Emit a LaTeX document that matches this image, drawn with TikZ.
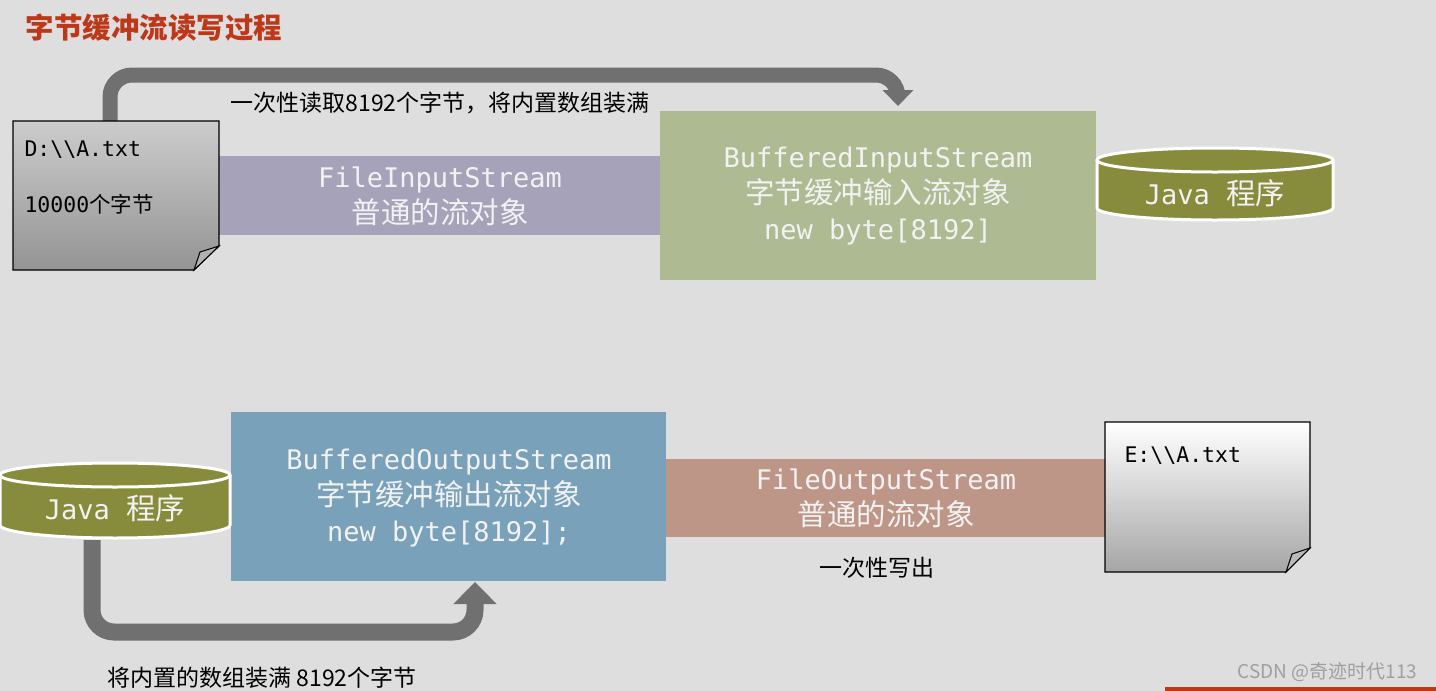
\documentclass[tikz,border=0pt]{standalone}
\usepackage{fontspec}
\setmainfont{DejaVu Sans}
\newfontfamily\cj{Noto Sans CJK SC}
\newfontfamily\mono{DejaVu Sans Mono}
\usetikzlibrary{arrows.meta}
\definecolor{bg}{RGB}{222,222,222}
\definecolor{ttl}{RGB}{190,55,25}
\definecolor{arr}{RGB}{112,112,112}
\definecolor{purp}{RGB}{166,162,186}
\definecolor{grn}{RGB}{174,186,146}
\definecolor{olive}{RGB}{134,140,60}
\definecolor{blu}{RGB}{121,161,186}
\definecolor{brn}{RGB}{190,150,136}
\definecolor{wt}{RGB}{242,242,242}
\tikzset{
  lbl/.style={font=\fontsize{27}{36}\selectfont\mono, text=wt, align=center},
  doctxt/.style={font=\fontsize{21.5}{26}\selectfont\mono, anchor=west, text=black},
  captxt/.style={font=\fontsize{23}{26}\selectfont\cj, text=black},
  bigarrow/.style={draw=arr, rounded corners=22pt},
}
\newcommand{\zh}[1]{{\cj\fontsize{29.5}{36}\selectfont #1}}
\begin{document}
\begin{tikzpicture}[x=1pt,y=-1pt]
\fill[bg] (0,0) rectangle (1436,691);
\useasboundingbox (0,0) rectangle (1436,691);
\node[anchor=west, text=ttl, font=\fontsize{28.5}{32}\selectfont\cj\bfseries] (title) at (22,28) {字节缓冲流读写过程};
% top arrow
\coordinate (a1s) at (110,121);
\coordinate (a1e) at (898,106);
\draw[bigarrow, line width=15pt, -{Triangle[width=30pt,length=16pt]}] (a1s) -- (110,75) -- (898,75) -- (a1e);
\node[captxt] (l1) at (440,103) {一次性读取8192个字节，将内置数组装满};
% purple band
\fill[purp] (219,156) rectangle (660,235);
\node[lbl] (fis) at (440,196) {FileInputStream\\\zh{普通的流对象}};
% doc1
\shade[top color=gray!40, bottom color=gray!80!black!70, draw=black, line width=1.2pt]
  (13,121) -- (219,121) -- (219,246) -- (194,270) -- (13,270) -- cycle;
\draw[black, fill=gray!60, line width=1pt] (219,246) -- (194,270) -- (200,252) -- cycle;
\node[doctxt] (d1) at (21,150) {D:\textbackslash\textbackslash A.txt};
\node[doctxt] (d1b) at (21,204) {10000{\cj 个字节}};
% green box
\fill[grn] (660,111) rectangle (1096,280);
\node[lbl] (bis) at (878,196) {BufferedInputStream\\\zh{字节缓冲输入流对象}\\new byte[8192]};
% cylinder 1
\draw[white, line width=3pt, fill=olive] (1097,160) -- (1097,208) arc[start angle=180,end angle=0,x radius=118,y radius=12] -- (1333,160);
\draw[white, line width=3pt, fill=olive] (1215,160) ellipse[x radius=118, y radius=12];
\node[lbl] (j1) at (1215,193) {Java \zh{程序}};
% bottom arrow
\coordinate (a2s) at (92,540);
\coordinate (a2e) at (475,582);
\draw[bigarrow, line width=17pt, -{Triangle[width=42pt,length=22pt]}] (a2s) -- (92,632) -- (475,632) -- (a2e);
\node[captxt, anchor=west] (l2) at (104,678) {将内置的数组装满 8192个字节};
% brown band
\fill[brn] (666,459) rectangle (1105,537);
\node[lbl] (fos) at (886,498) {FileOutputStream\\\zh{普通的流对象}};
% blue box
\fill[blu] (231,412) rectangle (666,581);
\node[lbl] (bos) at (449,498) {BufferedOutputStream\\\zh{字节缓冲输出流对象}\\new byte[8192];};
% cylinder 2
\draw[white, line width=3pt, fill=olive] (0,475) -- (0,525) arc[start angle=180,end angle=0,x radius=115,y radius=13] -- (230,475);
\draw[white, line width=3pt, fill=olive] (115,475) ellipse[x radius=115, y radius=12];
\node[lbl] (j2) at (115,508) {Java \zh{程序}};
% doc2
\shade[top color=white, bottom color=gray!70, draw=black, line width=1.2pt]
  (1105,422) -- (1310,422) -- (1310,548) -- (1286,572) -- (1105,572) -- cycle;
\draw[black, fill=gray!55, line width=1pt] (1310,548) -- (1286,572) -- (1292,554) -- cycle;
\node[doctxt] (d2) at (1121,456) {E:\textbackslash\textbackslash A.txt};
\node[captxt] (l3) at (877,568) {一次性写出};
% watermark
\node[anchor=east, text=gray!75, font=\fontsize{19}{22}\selectfont\cj] (wm) at (1421,672) {CSDN @奇迹时代113};
\fill[ttl] (1165,687) rectangle (1436,691);
\end{tikzpicture}
\end{document}
